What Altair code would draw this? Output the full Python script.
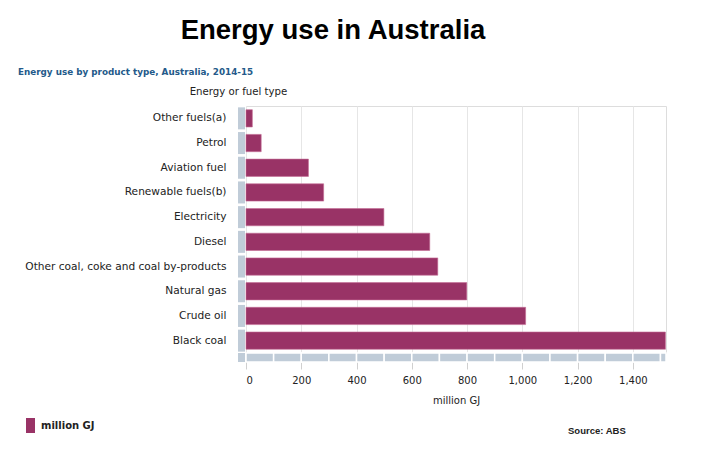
import altair as alt
import pandas as pd

categories = ["Other fuels(a)", "Petrol", "Aviation fuel", "Renewable fuels(b)", "Electricity",
              "Diesel", "Other coal, coke and coal by-products", "Natural gas", "Crude oil", "Black coal"]
values = [23, 55, 226, 281, 499, 665, 694, 799, 1012, 1518]
x_ticks = [0, 200, 400, 600, 800, 1000, 1200, 1400]
strip_starts = [0, 100, 200, 300, 400, 500, 600, 700, 800, 900, 1000, 1100, 1200, 1300, 1400, 1500]
strip_ends = [100, 200, 300, 400, 500, 600, 700, 800, 900, 1000, 1100, 1200, 1300, 1400, 1500, 1520]

BAR = "#993366"
GREY = "#c0ccd8"
FONT = "DejaVu Sans"

df = pd.DataFrame({"cat": categories, "val": values, "series": ["million GJ"] * len(values)})
strip = pd.DataFrame({"a": strip_starts, "b": strip_ends})

W, H = 420, 247
xscale = alt.Scale(domain=[0, 1520], nice=False, zero=True)
yscale = alt.Scale(domain=categories, paddingInner=0.3, paddingOuter=0.15)

bars = alt.Chart(df).mark_bar(stroke="#c46d95", strokeWidth=0.6).encode(
    x=alt.X("val:Q", scale=xscale,
            axis=alt.Axis(values=x_ticks, format=",d", title="million GJ", grid=True,
                          gridColor="#e6e6e6", domain=False, tickSize=16, tickColor="#d0d0d0",
                          labelPadding=6, labelFont=FONT, labelFontSize=10, labelColor="#222",
                          titleFont=FONT, titleFontSize=10, titleFontWeight="normal",
                          titleColor="#222", titlePadding=10)),
    y=alt.Y("cat:N", scale=yscale, sort=categories,
            axis=alt.Axis(title="Energy or fuel type", domain=False, ticks=False, labelPadding=20,
                          labelLimit=0,
                          labelFont=FONT, labelFontSize=10.6, labelColor="#222",
                          titleAngle=0, titleX=-8, titleY=-10, titleAlign="center",
                          titleFont=FONT, titleFontSize=10.2, titleFontWeight="normal",
                          titleColor="#222")),
    color=alt.Color("series:N", scale=alt.Scale(range=[BAR]),
                    legend=alt.Legend(title=None, orient="none", legendX=-223, legendY=312,
                                      symbolType="M-0.6,-1L0.6,-1L0.6,1L-0.6,1Z",
                                      symbolSize=225, symbolStrokeWidth=0,
                                      labelFont=FONT, labelFontSize=10, labelFontWeight="bold",
                                      labelColor="#222", labelOffset=3)),
)

grey_blocks = alt.Chart(df).mark_bar(color=GREY, size=22).encode(
    x=alt.value(-8), x2=alt.value(-1),
    y=alt.Y("cat:N", scale=yscale, sort=categories),
)

strip_layer = alt.Chart(strip).mark_rect(color=GREY, stroke="white", strokeWidth=1.5).encode(
    x=alt.X("a:Q", scale=xscale), x2="b:Q",
    y=alt.value(H + 0), y2=alt.value(H + 9),
)
strip_left = alt.Chart(df.head(1)).mark_rect(color=GREY).encode(
    x=alt.value(-8), x2=alt.value(-1), y=alt.value(H + 0), y2=alt.value(H + 9),
)

title = alt.Chart(df.head(1)).mark_text(text="Energy use in Australia", font="Liberation Sans",
                                        fontSize=27.5, fontWeight="bold", color="black",
                                        align="center", baseline="middle").encode(
    x=alt.value(87), y=alt.value(-75))
subtitle = alt.Chart(df.head(1)).mark_text(text="Energy use by product type, Australia, 2014-15",
                                           font=FONT, fontSize=8.8, fontWeight="bold",
                                           color="#245a8a", align="left", baseline="middle").encode(
    x=alt.value(-228), y=alt.value(-34))
source = alt.Chart(df.head(1)).mark_text(text="Source: ABS", font="Liberation Sans", fontSize=9.5,
                                         fontWeight="bold", color="#222", align="left",
                                         baseline="middle").encode(
    x=alt.value(322), y=alt.value(325))

chart = alt.layer(strip_layer, strip_left, grey_blocks, bars, title, subtitle, source).properties(
    width=W, height=H,
    autosize=alt.AutoSizeParams(type="none"),
    padding={"left": 246, "top": 106, "right": 38, "bottom": 116},
).configure_view(stroke=None).configure(background="white")

chart.save("out.html", embed_options={"renderer": "svg", "actions": False})
